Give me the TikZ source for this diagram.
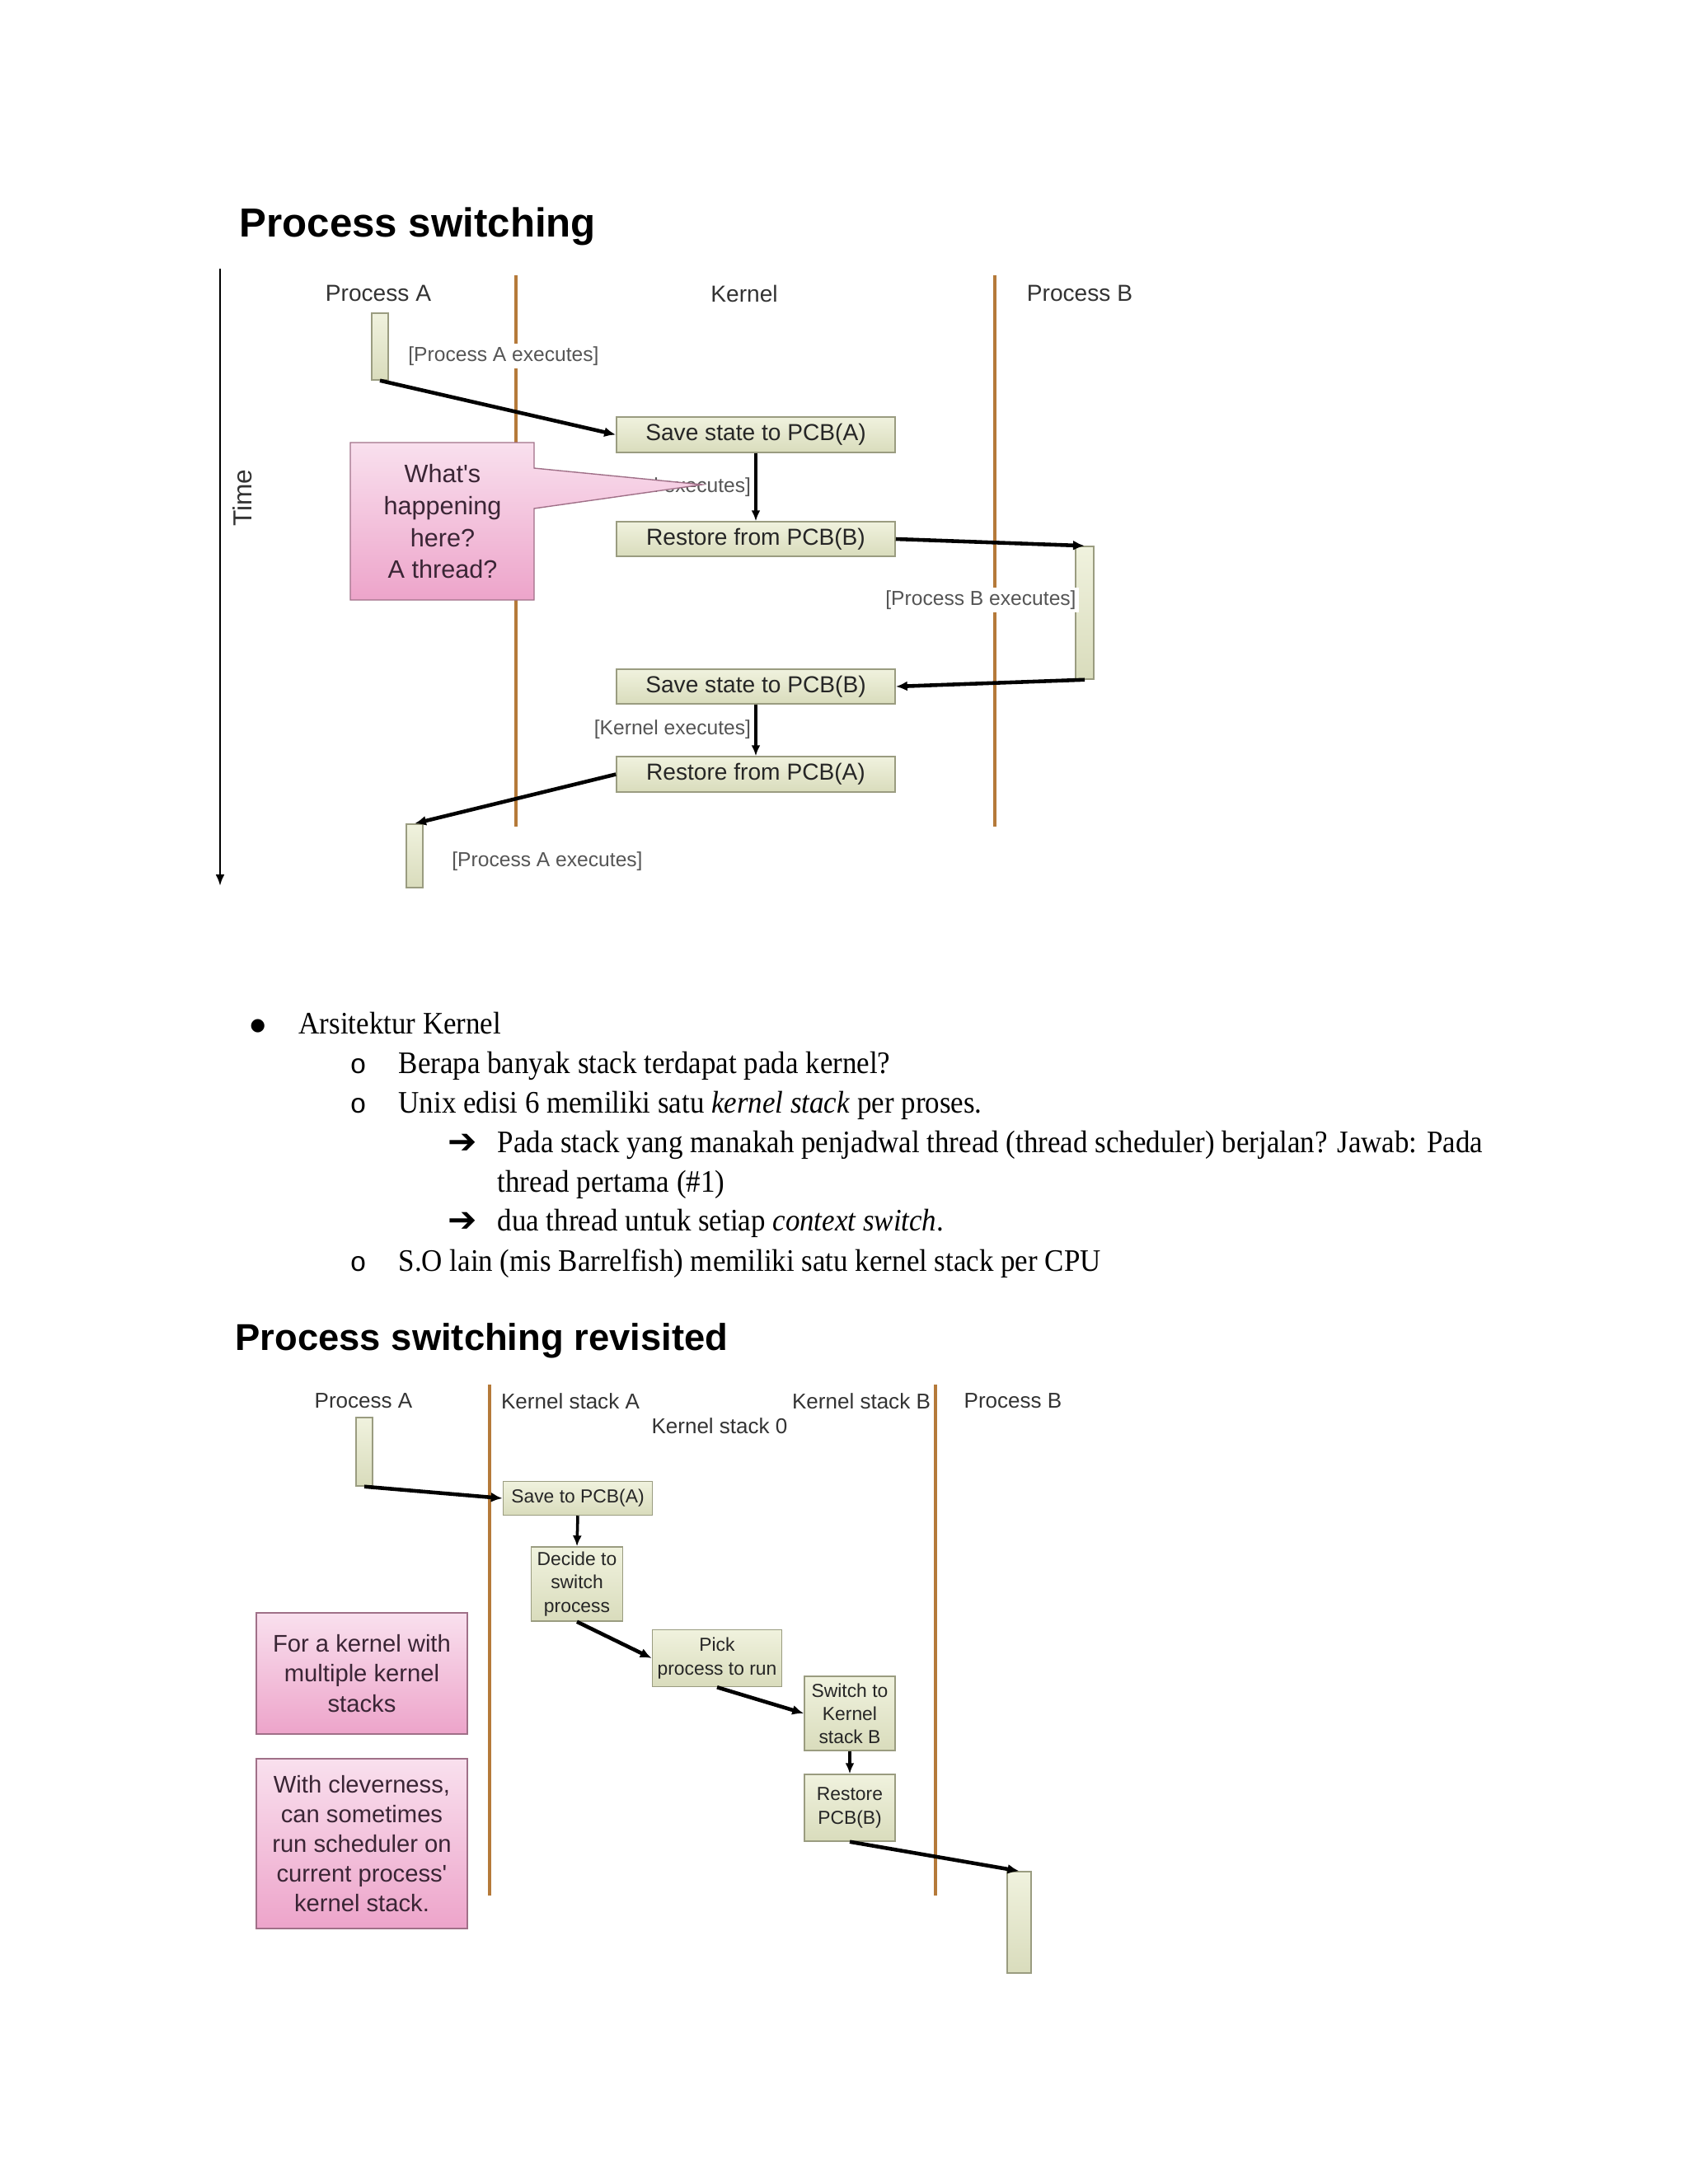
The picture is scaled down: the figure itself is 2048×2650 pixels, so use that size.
\documentclass[tikz,border=0pt]{standalone}
\usepackage{fontspec}
\setmainfont{Liberation Serif}[FakeStretch=0.92]
\newfontfamily\slidefont{Liberation Sans}
\newfontfamily\markfont{Liberation Mono}
\newfontfamily\symfont{DejaVu Sans}
\usetikzlibrary{arrows.meta}
\definecolor{lifecol}{HTML}{B57A3A}
\definecolor{boxline}{HTML}{9A9C80}
\definecolor{boxtop}{HTML}{F0F2DE}
\definecolor{boxbot}{HTML}{D9DCBC}
\definecolor{notetop}{HTML}{F9E0EE}
\definecolor{notebot}{HTML}{EDA4CA}
\definecolor{noteline}{HTML}{A07088}
\definecolor{notetext}{HTML}{3A2535}
\definecolor{labelgray}{HTML}{555555}
\tikzset{
	lifeline/.style = {draw=lifecol, line width=0.9pt},
	msg/.style = {-{Latex[length=1.4mm,width=1.2mm]}, line width=1.3pt},
	stepmsg/.style = {-{Latex[length=1.3mm,width=1.1mm]}, line width=1pt},
	pcbbox/.style = {draw=boxline, top color=boxtop, bottom color=boxbot, inner sep=1pt, align=center, text=black!85, font=\slidefont\fontsize{8}{9.5}\selectfont},
	smallbox/.style = {pcbbox, font=\slidefont\fontsize{6.5}{8}\selectfont},
	execbar/.style = {draw=boxline, top color=boxtop, bottom color=boxbot, minimum width=0.2cm, inner sep=0pt},
	lane/.style = {text=black!80, font=\slidefont\fontsize{8}{9}\selectfont},
	runlabel/.style = {fill=white, inner sep=1pt, text=labelgray, font=\slidefont\fontsize{7}{8}\selectfont},
	notebox/.style = {draw=noteline, top color=notetop, bottom color=notebot, align=center, text=notetext, font=\slidefont\fontsize{8.3}{10.3}\selectfont},
	doctext/.style = {anchor=base west, inner sep=0pt, font=\fontsize{10.8}{12}\selectfont},
	marker/.style = {doctext, font=\markfont\fontsize{9.5}{12}\selectfont},
	pointer/.style = {doctext, font=\symfont\fontsize{12}{12}\selectfont},
}
\begin{document}
\begin{tikzpicture}[x=0.01cm, y=-0.01cm]
	\useasboundingbox (0,0) rectangle (2048,2650);
	% first picture
	\node[anchor=west, inner sep=0pt, font=\slidefont\bfseries\fontsize{14}{16}\selectfont] (title) at (290,275) {Process switching};
	% time axis
	\coordinate (ttop) at (267,326);
	\coordinate (tbot) at (267,1075);
	\draw[-{Latex[length=1.4mm,width=1.1mm]}, line width=0.8pt] (ttop) -- (tbot);
	\node[rotate=90, lane, font=\slidefont\fontsize{9}{10}\selectfont] (time) at (294,604) {Time};
	% lanes
	\node[lane] (laneA) at (459,356) {Process A};
	\node[lane] (laneK) at (903,356) {Kernel};
	\node[lane] (laneB) at (1310,356) {Process B};
	\coordinate (k1) at (626,334);
	\coordinate (k2) at (626,1003);
	\coordinate (b1) at (1207,334);
	\coordinate (b2) at (1207,1003);
	\draw[lifeline] (k1) -- (k2);
	\draw[lifeline] (b1) -- (b2);
	% bars and boxes
	\node[execbar, minimum height=0.81cm] (pa1) at (461,420.5) {};
	\node[runlabel] (runA1) at (611,432) {[Process A executes]};
	\node[pcbbox, minimum width=3.38cm, minimum height=0.43cm] (saveA) at (917,527.5) {Save state to PCB(A)};
	\node[runlabel] (runK1) at (816,591) {[Kernel executes]};
	\node[pcbbox, minimum width=3.38cm, minimum height=0.42cm] (restB) at (917,654) {Restore from PCB(B)};
	\node[execbar, minimum width=0.22cm, minimum height=1.61cm] (pb) at (1316,743.5) {};
	\node[runlabel] (runB) at (1190,728) {[Process B executes]};
	\node[pcbbox, minimum width=3.38cm, minimum height=0.42cm] (saveB) at (917,833) {Save state to PCB(B)};
	\node[runlabel] (runK2) at (816,885) {[Kernel executes]};
	\node[pcbbox, minimum width=3.38cm, minimum height=0.43cm] (restA) at (917,939.5) {Restore from PCB(A)};
	\node[execbar, minimum height=0.77cm] (pa2) at (503,1038.5) {};
	\node[runlabel] (runA2) at (664,1045) {[Process A executes]};
	% callout
	\draw[draw=noteline, top color=notetop, bottom color=notebot]
		(425,537) -- (648,537) -- (648,568) -- (852,588) -- (648,617) -- (648,728) -- (425,728) -- cycle;
	\node[align=center, text=notetext, font=\slidefont\fontsize{8.7}{11}\selectfont] (what) at (537,633) {What's\\happening\\here?\\A thread?};
	% messages
	\draw[msg] (pa1.south) -- (saveA.west);
	\draw[stepmsg] (saveA.south) -- (restB.north);
	\draw[msg] (restB.east) -- (pb.north);
	\draw[msg] (pb.south) -- (saveB.east);
	\draw[stepmsg] (saveB.south) -- (restA.north);
	\draw[msg] (restA.west) -- (pa2.north);

	% text
	\node[doctext, font=\symfont\fontsize{6}{12}\selectfont] (dot) at (303,1250) {●};
	\node[doctext] (t1) at (362,1254) {Arsitektur Kernel};
	\node[marker] (o1) at (424,1302) {o};
	\node[doctext] (t2) at (483,1302) {Berapa banyak stack terdapat pada kernel?};
	\node[marker] (o2) at (424,1350) {o};
	\node[doctext] (t3) at (483,1350) {Unix edisi 6 memiliki satu \textit{kernel stack} per proses.};
	\node[pointer] (r1) at (543,1399) {➔};
	\node[doctext] (t4) at (603,1398) {Pada stack yang manakah penjadwal thread (thread scheduler) berjalan? Jawab: Pada};
	\node[doctext] (t5) at (603,1446) {thread pertama (\#1)};
	\node[pointer] (r2) at (543,1494) {➔};
	\node[doctext] (t6) at (603,1493) {dua thread untuk setiap \textit{context switch}.};
	\node[marker] (o3) at (424,1542) {o};
	\node[doctext] (t7) at (483,1542) {S.O lain (mis Barrelfish) memiliki satu kernel stack per CPU};

	% second picture
	\node[anchor=west, inner sep=0pt, font=\slidefont\bfseries\fontsize{12.9}{15}\selectfont] (title2) at (285,1627) {Process switching revisited};
	\node[lane, font=\slidefont\fontsize{7.4}{9}\selectfont] (laneA2) at (441,1700) {Process A};
	\node[lane, font=\slidefont\fontsize{7.4}{9}\selectfont] (laneKA) at (692,1700) {Kernel stack A};
	\node[lane, font=\slidefont\fontsize{7.4}{9}\selectfont] (laneK0) at (873,1730) {Kernel stack 0};
	\node[lane, font=\slidefont\fontsize{7.4}{9}\selectfont] (laneKB) at (1045,1700) {Kernel stack B};
	\node[lane, font=\slidefont\fontsize{7.4}{9}\selectfont] (laneB2) at (1229,1700) {Process B};
	\coordinate (ka1) at (594,1680);
	\coordinate (ka2) at (594,2300);
	\coordinate (kb1) at (1135,1680);
	\coordinate (kb2) at (1135,2300);
	\draw[lifeline] (ka1) -- (ka2);
	\draw[lifeline] (kb1) -- (kb2);
	\node[execbar, minimum height=0.83cm] (barA) at (442,1761.5) {};
	\node[smallbox, minimum width=1.81cm, minimum height=0.41cm] (save0) at (701,1818) {Save to PCB(A)};
	\node[smallbox, minimum width=1.11cm, minimum height=0.9cm] (decide) at (700,1922) {Decide to\\switch\\process};
	\node[smallbox, minimum width=1.57cm, minimum height=0.69cm] (pick) at (870,2012) {Pick\\process to run};
	\node[smallbox, minimum width=1.1cm, minimum height=0.9cm] (switch) at (1031,2079) {Switch to\\Kernel\\stack B};
	\node[smallbox, minimum width=1.1cm, minimum height=0.81cm] (restore) at (1031,2193.5) {Restore\\PCB(B)};
	\node[execbar, minimum width=0.29cm, minimum height=1.23cm] (barB) at (1236.5,2332.5) {};
	\node[notebox, minimum width=2.56cm, minimum height=1.47cm] (note1) at (439,2030.5) {For a kernel with\\multiple kernel\\stacks};
	\node[notebox, minimum width=2.56cm, minimum height=2.06cm] (note2) at (439,2237) {With cleverness,\\can sometimes\\run scheduler on\\current process'\\kernel stack.};
	% steps
	\draw[msg] (barA.south) -- (save0.west);
	\draw[stepmsg] (save0.south) -- (decide.north);
	\draw[msg] (decide.south) -- (pick.west);
	\draw[msg] (pick.south) -- (switch.west);
	\draw[stepmsg] (switch.south) -- (restore.north);
	\draw[msg] (restore.south) -- (barB.north);
\end{tikzpicture}
\end{document}
